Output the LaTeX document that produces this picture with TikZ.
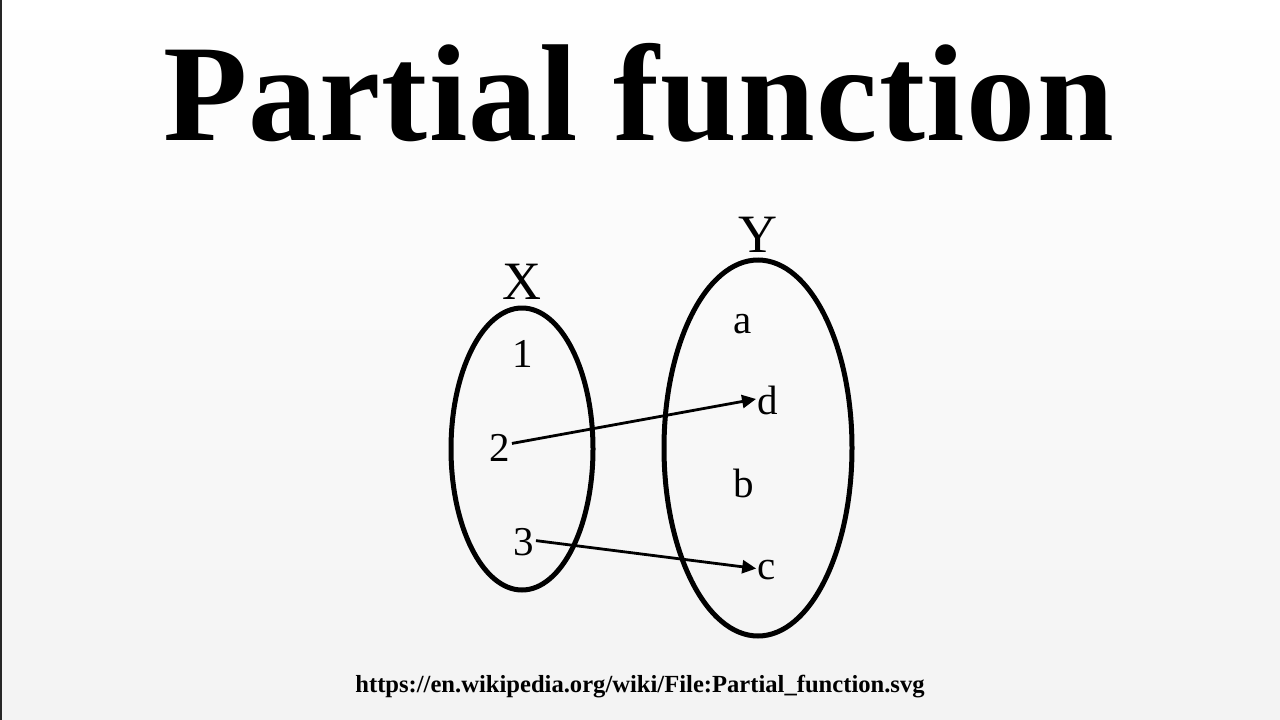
\documentclass[tikz,border=0pt]{standalone}
\usepackage{fontspec}
\setmainfont{Liberation Serif}
\usetikzlibrary{arrows.meta}
\definecolor{bgbottom}{RGB}{243,243,243}
\tikzset{
  setlabel/.style={font=\fontsize{54}{62}\selectfont, inner sep=0pt, anchor=base},
  elem/.style={font=\fontsize{41}{48}\selectfont, inner sep=1.5pt, anchor=base},
  setshape/.style={draw=black, line width=5pt},
  maparrow/.style={draw=black, line width=2.8pt, -{Triangle[length=14pt,width=13pt]}},
}
\begin{document}
\begin{tikzpicture}[x=1pt,y=-1pt]
\useasboundingbox (0,0) rectangle (1280,720);
\shade[top color=white, bottom color=bgbottom] (0,0) rectangle (1280,720);
\fill[black!85] (0,0) rectangle (2,720);
\node[font=\bfseries\fontsize{138}{160}\selectfont\addfontfeature{LetterSpace=1}, inner sep=0pt, anchor=base] (title) at (638.5,140) {Partial function};
\draw[setshape] (522,449) ellipse [x radius=71, y radius=141];
\draw[setshape] (758,448) ellipse [x radius=94, y radius=188];
\node[setlabel] (X) at (522,299) {X};
\node[setlabel] (Y) at (758,252) {Y};
\node[elem] (n1) at (523,367) {1};
\node[elem] (n2) at (500,461) {2};
\node[elem] (n3) at (524,555) {3};
\node[elem] (na) at (743,333) {a};
\node[elem] (nd) at (768,414) {d};
\node[elem] (nb) at (744,497) {b};
\node[elem] (nc) at (767,579) {c};
\draw[maparrow] ([yshift=4pt]n2.east) -- ([yshift=1pt]nd.west);
\draw[maparrow] ([yshift=1pt]n3.east) -- ([yshift=1pt]nc.west);
\node[font=\bfseries\fontsize{24.6}{28}\selectfont, inner sep=0pt, anchor=base] (url) at (640,692) {https://en.wikipedia.org/wiki/File:Partial\_function.svg};
\end{tikzpicture}
\end{document}
